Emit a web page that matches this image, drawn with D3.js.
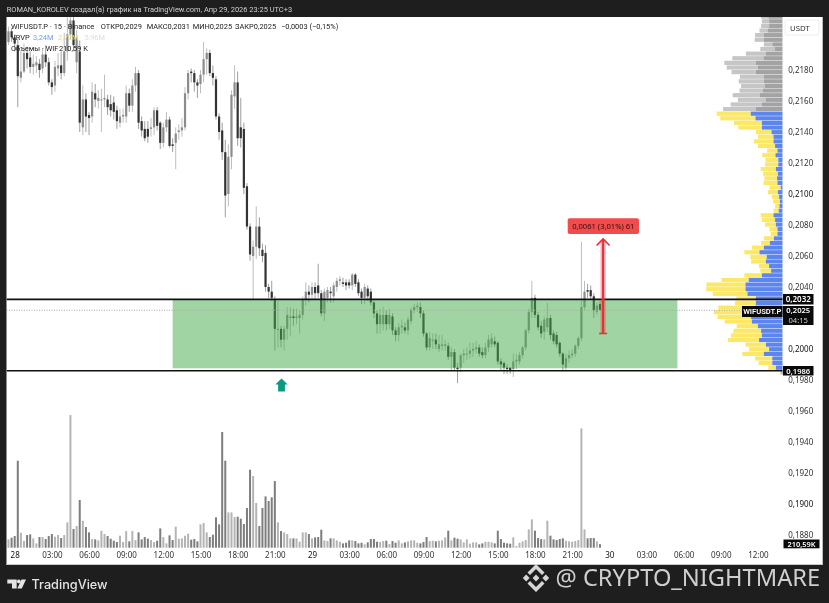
<!DOCTYPE html>
<html><head><meta charset="utf-8">
<style>html,body{margin:0;padding:0;background:#1e1e1e}svg{display:block;filter:blur(.3px);font-family:"Noto Sans",sans-serif}</style>
<script src="https://cdn.jsdelivr.net/npm/d3@7/dist/d3.min.js"></script>
</head><body><svg id="c" width="829" height="603"></svg>
<script>
// price values are in units of 0.0001
const opens=[2198,2205,2201,2196,2175,2179,2191,2188,2182,2183,
2184,2181,2190,2185,2172,2170,2181,2183,2178,2192,
2203,2212,2185,2192,2143,2161,2151,2150,2165,2160,
2161,2161,2161,2158,2159,2154,2146,2150,2150,2165,
2157,2170,2178,2147,2142,2142,2142,2143,2154,2146,
2133,2143,2148,2132,2133,2140,2141,2143,2165,2179,
2178,2172,2171,2177,2187,2191,2178,2174,2150,2141,
2127,2100,2124,2163,2172,2143,2142,2105,2079,2060,
2066,2079,2064,2062,2040,2037,2032,2013,2013,2006,
2013,2020,2021,2020,2020,2022,2032,2037,2035,2040,
2041,2036,2023,2033,2037,2034,2040,2044,2043,2043,
2043,2041,2048,2043,2037,2033,2039,2037,2030,2023,
2016,2016,2022,2016,2021,2012,2009,2014,2014,2012,
2018,2025,2027,2027,2023,2010,2001,2006,2006,2000,
2002,2002,2002,1995,1998,1988,1988,1996,1997,1997,
1999,2000,2001,1998,1996,2001,2003,2005,2004,1992,
1991,1988,1988,1987,1992,1992,1996,2001,2012,2024,
2033,2022,2015,2011,2014,2020,2010,2009,2004,1997,
1988,1994,1996,1997,2002,2007,2027,2038,2038,2034,
2024,2029];
const highs=[2208,2207,2203,2200,2193,2197,2195,2192,2190,2189,
2187,2194,2196,2188,2174,2186,2191,2192,2204,2214,
2216,2216,2206,2199,2170,2165,2153,2172,2171,2167,
2168,2177,2164,2164,2163,2157,2155,2155,2170,2168,
2174,2182,2180,2150,2147,2147,2149,2156,2156,2147,
2146,2153,2150,2136,2143,2145,2149,2169,2180,2181,
2180,2174,2180,2198,2194,2193,2183,2176,2152,2146,
2135,2132,2167,2183,2179,2162,2146,2107,2081,2070,
2092,2085,2068,2067,2042,2044,2034,2031,2015,2015,
2027,2027,2026,2026,2025,2034,2043,2041,2043,2043,
2055,2038,2039,2040,2040,2043,2046,2047,2046,2045,
2045,2049,2049,2045,2039,2042,2041,2039,2031,2025,
2026,2027,2025,2026,2023,2014,2017,2019,2017,2021,
2027,2029,2030,2030,2025,2011,2011,2010,2010,2009,
2009,2006,2004,2001,2000,1991,1997,2000,2001,2004,
2004,2005,2003,2001,2004,2009,2010,2008,2005,1994,
1992,1990,1988,1997,1997,1998,2002,2013,2026,2044,
2035,2024,2018,2021,2030,2022,2012,2011,2005,1998,
1997,1999,2000,2003,2008,2069,2044,2042,2041,2036,
2030,2031];
const lows=[2196,2198,2192,2156,2172,2178,2181,2178,2177,2178,
2175,2178,2182,2170,2164,2166,2176,2174,2176,2186,
2200,2192,2178,2140,2138,2140,2138,2146,2156,2155,
2140,2156,2151,2150,2148,2142,2143,2146,2146,2153,
2153,2166,2142,2137,2134,2133,2137,2138,2141,2129,
2130,2140,2130,2127,2116,2135,2137,2141,2161,2172,
2166,2162,2165,2172,2177,2176,2170,2148,2135,2122,
2085,2092,2116,2155,2131,2130,2100,2077,2057,2032,
2058,2060,2056,2037,2033,2031,1999,2001,2001,1999,
2006,2008,2015,2016,2010,2019,2028,2030,2032,2032,
2033,2021,2018,2030,2030,2030,2037,2041,2040,2038,
2039,2038,2040,2034,2029,2029,2031,2028,2020,2010,
2010,2012,2012,2013,2009,2005,2005,2010,2010,2009,
2016,2023,2024,2020,2008,1999,1999,2000,2000,1998,
1999,1999,1993,1986,1986,1978,1985,1991,1993,1994,
1995,1997,1995,1994,1994,1998,2001,2001,1990,1986,
1984,1984,1984,1982,1987,1990,1994,1999,2010,2020,
2020,2012,2007,2006,2011,2006,2003,2001,1995,1986,
1986,1991,1994,1995,2000,2005,2025,2033,2032,2020,
2022,2025];
const closes=[2205,2201,2197,2176,2179,2191,2187,2182,2184,2185,
2180,2190,2185,2172,2169,2182,2183,2178,2192,2203,
2212,2196,2201,2146,2161,2150,2149,2166,2161,2162,
2161,2162,2156,2154,2153,2147,2150,2151,2165,2157,
2170,2178,2146,2141,2136,2137,2143,2154,2144,2133,
2143,2148,2131,2131,2139,2141,2143,2165,2178,2178,
2172,2170,2177,2187,2191,2178,2175,2150,2140,2127,
2099,2124,2164,2172,2136,2136,2104,2079,2061,2066,
2079,2065,2060,2040,2037,2033,2013,2013,2006,2013,
2022,2021,2020,2021,2022,2032,2037,2035,2040,2036,
2036,2023,2037,2038,2036,2041,2044,2045,2042,2041,
2041,2048,2042,2036,2033,2040,2034,2030,2023,2016,
2022,2022,2016,2022,2012,2009,2014,2015,2012,2019,
2025,2027,2028,2023,2010,2001,2007,2006,2003,2003,
2003,2003,1995,1998,1988,1987,1996,1997,1997,1999,
2000,2001,1997,1996,2001,2006,2007,2003,1992,1990,
1988,1987,1986,1992,1993,1996,2001,2012,2024,2033,
2022,2014,2010,2019,2020,2009,2005,2003,1997,1990,
1994,1996,1997,2002,2007,2027,2037,2037,2034,2025,
2028,2025];
// volume, thousands
const volumes=[500,600,700,5220,900,400,760,800,560,260,
640,640,520,700,820,660,760,580,760,1520,
7960,1120,1300,2860,1620,1240,920,520,500,440,
1020,820,700,540,420,340,720,340,1000,380,
1000,460,920,500,640,540,460,340,420,1160,
640,260,740,460,1260,540,560,720,840,480,
520,380,1400,1480,920,640,780,1820,1400,6940,
5220,2120,2120,1840,1860,1740,1420,2380,4680,4300,
2680,1300,2380,3080,2800,3020,4000,1520,1000,920,
820,560,560,560,360,920,920,820,560,620,
640,1080,440,400,560,560,440,360,260,300,
440,440,400,260,300,200,320,520,520,360,
340,400,420,220,400,300,440,260,320,380,
440,440,300,260,340,640,400,420,380,420,
440,620,1020,440,600,540,500,320,500,240,
320,320,200,260,360,360,320,260,1020,520,
300,260,240,620,100,300,380,460,1100,1700,
1020,580,520,500,1620,720,500,460,520,560,
420,380,360,400,460,7160,1100,560,580,580,
380,210.59];
// visible-range volume profile, top row to bottom row (thousands)
const vpUp=[36,34,34,38,47,47,26,20,42,48,67,62,67,47,47,45,50,57,43,52,67,80,68,52,52,28,23,23,19,13,18,11,11,17,12,14,13,5,12,9,7,8,10,23,19,17,13,13,22,32,47,58,40,42,34,29,52,85,93,93,88,67,67,69,79,79,77,62,54,52,59,42,34,47,26,26,17,3];
const vpDown=[18,18,20,20,22,23,21,36,50,78,79,78,61,60,63,59,58,68,69,78,82,85,88,70,59,39,39,49,43,26,33,32,33,38,37,32,35,28,25,18,17,11,13,32,33,27,20,17,25,22,30,38,41,37,25,27,44,68,98,98,87,49,52,92,93,84,68,53,69,77,78,51,50,54,43,34,19,4];
const vpValueAreaStart=21, vpTop=2214.4, vpStep=2.98;
const priceTicks=[2180,2160,2140,2120,2100,2080,2060,2040,2000,1980,1960,1940,1920,1900,1880];
const boldTicks=[2100,2000,1900];
const timeLabels=["28","03:00","06:00","09:00","12:00","15:00","18:00","21:00","29","03:00","06:00","09:00","12:00","15:00","18:00","21:00","30","03:00","06:00","09:00","12:00"];
const zoneTop=2032, zoneBottom=1986, lastPrice=2025, measureFrom=2010, measureTo=2071, signalPrice=1981;
const zoneFromBar=53, zoneToBar=216, signalBar=88, measureBar=192;

const svg=d3.select("#c");
const fmt=v=>(v/10000).toFixed(4).replace(".",",");
const W=822.7, PX=782.7, T=17, B=565;
const x=d3.scaleLinear().domain([0,191]).range([8.5,600]);
const y=d3.scaleLinear().domain([2180,1880]).range([70,535]);
const vol=d3.scaleLinear().domain([0,8400]).range([547.7,407.7]);
const vpW=d3.scaleLinear().domain([0,5]).range([0,2]);

svg.append("rect").attr("width",829).attr("height",603).attr("fill","#1e1e1e");
svg.append("rect").attr("x",6.5).attr("y",T).attr("width",W-6.5).attr("height",B-T).attr("fill","#fff");
svg.append("line").attr("x1",6.5).attr("x2",W).attr("y1",B-.5).attr("y2",B-.5).attr("stroke","#c9c9c9");

const defs=svg.append("defs");
defs.append("clipPath").attr("id","pane").append("rect").attr("x",6.5).attr("y",T).attr("width",PX-6.5).attr("height",B-T-16);
const g=svg.append("g").attr("clip-path","url(#pane)");

// volume profile
const rows=vpUp.map((u,i)=>({i,u,d:vpDown[i]}));
const rowY=i=>y(vpTop-vpStep*i);
g.append("g").selectAll("rect.o").data(rows).join("rect")
 .attr("x",d=>PX-vpW(d.u+d.d)).attr("width",d=>vpW(d.d)).attr("y",d=>rowY(d.i)-2.1).attr("height",4.2)
 .attr("fill",d=>d.i<vpValueAreaStart?"#c6c6c6":"#fbe868");
g.append("g").selectAll("rect.i").data(rows).join("rect")
 .attr("x",d=>PX-vpW(d.u)).attr("width",d=>vpW(d.u)).attr("y",d=>rowY(d.i)-2.1).attr("height",4.2)
 .attr("fill",d=>d.i<vpValueAreaStart?"#a3a3a3":"#5c85ee");

// volume
g.append("g").selectAll("rect").data(volumes).join("rect")
 .attr("x",(d,i)=>x(i)-1).attr("width",2).attr("y",d=>vol(d)).attr("height",d=>vol(0)-vol(d))
 .attr("fill",(d,i)=>closes[i]>=opens[i]?"#b4b4b4":"#7d7d7d");

// candles
const bars=opens.map((o,i)=>({i,o,h:highs[i],l:lows[i],c:closes[i]}));
g.append("g").selectAll("line").data(bars).join("line")
 .attr("x1",d=>x(d.i)).attr("x2",d=>x(d.i)).attr("y1",d=>y(d.h)).attr("y2",d=>y(d.l))
 .attr("stroke",d=>d.c>=d.o?"#bdbdbd":"#9e9e9e").attr("stroke-width",1);
g.append("g").selectAll("rect").data(bars).join("rect")
 .attr("x",d=>x(d.i)-1.1).attr("width",2.2)
 .attr("y",d=>y(Math.max(d.o,d.c))).attr("height",d=>Math.max(1,Math.abs(y(d.o)-y(d.c))))
 .attr("fill",d=>d.c>=d.o?"#8c8c8c":"#333");

// zone, levels
g.append("rect").attr("x",x(zoneFromBar)).attr("width",x(zoneToBar)-x(zoneFromBar))
 .attr("y",y(zoneTop)).attr("height",y(zoneBottom)-y(zoneTop)-2.4).attr("fill","rgba(67,170,72,.5)");
g.append("line").attr("x1",6.5).attr("x2",742).attr("y1",y(lastPrice)).attr("y2",y(lastPrice))
 .attr("stroke","#a8a8a8").attr("stroke-dasharray","1 1.5").attr("stroke-width",1);
[zoneTop,zoneBottom].forEach(p=>g.append("line").attr("x1",6.5).attr("x2",PX).attr("y1",y(p)).attr("y2",y(p)).attr("stroke","#111").attr("stroke-width",1.6));

// signal arrow
const sx=x(signalBar)+.5, sy=y(signalPrice);
g.append("path").attr("fill","#089981")
 .attr("d",d3.line()([[sx,sy],[sx+6.2,sy+6],[sx+3.4,sy+6],[sx+3.4,sy+13],[sx-3.4,sy+13],[sx-3.4,sy+6],[sx-6.2,sy+6]])+"Z");

// measure arrow
const mx=x(measureBar), m1=y(measureFrom), m2=y(measureTo);
g.append("rect").attr("x",mx-2.6).attr("width",5.2).attr("y",m2+1).attr("height",m1-m2-1).attr("fill","rgba(242,54,69,.4)");
const red="#ee2b38";
g.append("line").attr("x1",mx).attr("x2",mx).attr("y1",m1).attr("y2",m2).attr("stroke",red).attr("stroke-width",2);
g.append("line").attr("x1",mx-4).attr("x2",mx+4).attr("y1",m1).attr("y2",m1).attr("stroke",red).attr("stroke-width",1.6);
g.append("path").attr("d",`M${mx-6.5} ${m2+6.5}L${mx} ${m2}L${mx+6.5} ${m2+6.5}`).attr("fill","none").attr("stroke",red).attr("stroke-width",1.6);
svg.append("rect").attr("x",567.7).attr("y",218.3).attr("width",71.3).attr("height",15.7).attr("rx",2).attr("fill","#f34b4b");
svg.append("text").attr("x",603.3).attr("y",229).attr("text-anchor","middle").attr("font-size",7.6).attr("fill","#2b1010").text("0,0061 (3,01%) 61");

// price axis
const ax=svg.append("g").attr("transform",`translate(${PX},0)`).call(d3.axisRight(y).tickValues(priceTicks).tickFormat(fmt).tickSize(0).tickPadding(5.5));
ax.select(".domain").remove();
ax.selectAll("text").attr("font-size",8).attr("font-family","Noto Sans").attr("fill",d=>boldTicks.includes(d)?"#111":"#333");
svg.append("rect").attr("x",785).attr("y",20).attr("width",34).attr("height",15).attr("rx",2).attr("fill","#fff").attr("stroke","#eee");
svg.append("text").attr("x",800).attr("y",31).attr("text-anchor","middle").attr("font-size",7.8).attr("fill","#333").text("USDT");

// time axis
const tx=svg.append("g").attr("transform",`translate(0,549)`).call(d3.axisBottom(x).tickValues(timeLabels.map((d,i)=>2+12*i)).tickFormat((d,i)=>timeLabels[i]).tickSize(0).tickPadding(3));
tx.select(".domain").remove();
tx.selectAll("text").attr("font-size",8).attr("font-family","Noto Sans").attr("fill",(d,i)=>(i%8===0)?"#111":"#333");

// tags
function tag(xp,yp,w,h,lines){
 svg.append("rect").attr("x",xp).attr("y",yp).attr("width",w).attr("height",h).attr("fill","#0a0a0a");
 lines.forEach(l=>svg.append("text").attr("x",xp+w/2).attr("y",yp+l.dy).attr("text-anchor","middle").attr("font-size",l.s||8).attr("font-family",l.f||"Noto Sans").attr("fill",l.c||"#fff").attr("font-weight",l.b?600:400).text(l.t));
}
tag(783,294,30.5,10.5,[{t:fmt(zoneTop),dy:8,b:1}]);
tag(783,306,30.5,19,[{t:fmt(lastPrice),dy:7.4,b:1,s:7.6},{t:"04:15",dy:16.8,c:"#ccc",s:7.6}]);
tag(742,306,40.5,11,[{t:"WIFUSDT.P",dy:8.3,b:1,s:7.6,f:"Roboto"}]);
tag(783,366,30.5,9.5,[{t:fmt(zoneBottom),dy:7.6,b:1,s:7.6}]);
tag(783.5,539.5,36,8.8,[{t:"210,59K",dy:7.3,b:1,s:7.4}]);

// legends
const txt=(xp,yp,s,c)=>svg.append("text").attr("x",xp).attr("y",yp).attr("font-size",7.45).attr("font-family","Roboto").attr("fill",c||"#222").text(s);
txt(6.7,12,"ROMAN_KOROLEV создал(а) график на TradingView.com, Апр 29, 2026 23:25 UTC+3","#cfcfcf");
txt(11,29,"WIFUSDT.P · 15 · Binance");
txt(100.7,29,"ОТКР0,2029");
txt(146.7,29,"МАКС0,2031");
txt(192.7,29,"МИН0,2025");
txt(235,29,"ЗАКР0,2025");
txt(281,29,"−0,0003 (−0,15%)");
txt(11,39.5,"VRVP");
txt(33,39.5,"3,24M","#7aa0ee");
txt(58,39.5,"2,72M","#f5e05a");
txt(84.5,39.5,"5,96M","#ddd");
txt(11,50.5,"Объемы · WIF");
txt(59,50.5,"210,59 K");

// footer
const lg=svg.append("g").attr("fill","#e4e4e4");
lg.append("path").attr("d","M7.3 579.5H16.7V588.5H12V583.5H7.3Z");
lg.append("circle").attr("cx",18.8).attr("cy",581.4).attr("r",1.9);
lg.append("path").attr("d","M21.5 579.5H26L21.8 588.5H17.3Z");
svg.append("text").attr("x",31.5).attr("y",589).attr("font-size",12.7).attr("font-family","Inter").attr("font-weight",500).attr("fill","#e4e4e4").text("TradingView");
const dm=(cx,cy,r)=>`M${cx} ${cy-r}L${cx+r} ${cy}L${cx} ${cy+r}L${cx-r} ${cy}Z`;
const bx=536, by=578, bl=svg.append("g").attr("fill","#d6d6d6");
bl.append("path").attr("d",dm(bx,by,3.4)+dm(bx-9.8,by,3.4)+dm(bx+9.8,by,3.4));
bl.append("path").attr("d",`M${bx} ${by-14}L${bx+8.5} ${by-5.5}L${bx+6} ${by-3}L${bx} ${by-9}L${bx-6} ${by-3}L${bx-8.5} ${by-5.5}Z`);
bl.append("path").attr("d",`M${bx} ${by+14}L${bx+8.5} ${by+5.5}L${bx+6} ${by+3}L${bx} ${by+9}L${bx-6} ${by+3}L${bx-8.5} ${by+5.5}Z`);
svg.append("text").attr("x",555.5).attr("y",585.5).attr("font-size",23.65).attr("fill","#cfcfcf").text("@ CRYPTO_NIGHTMARE");
</script></body></html>
